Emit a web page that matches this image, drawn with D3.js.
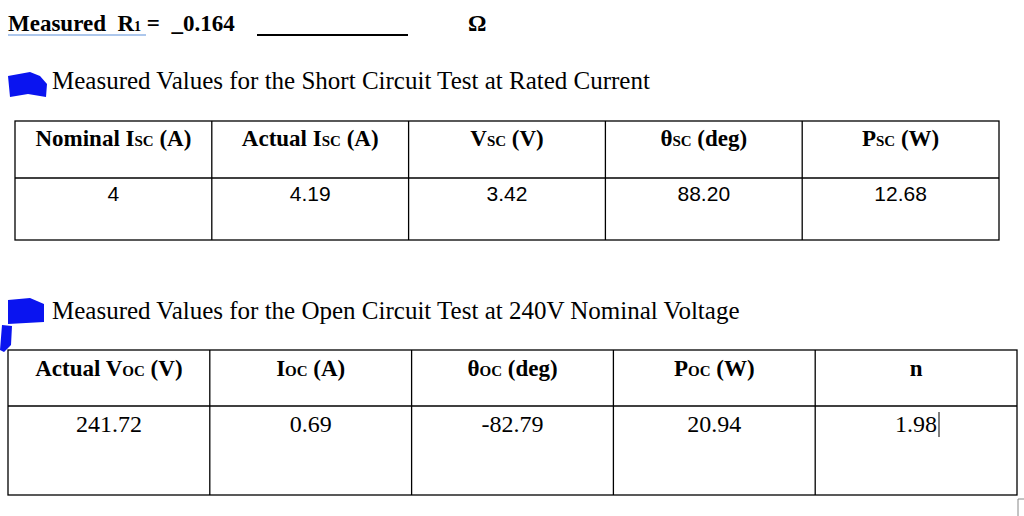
<!DOCTYPE html><html><head><meta charset="utf-8"><script src="https://cdn.jsdelivr.net/npm/d3@7"></script>
<style>body{margin:0;background:#fff}text{white-space:pre}</style></head><body><svg id="c" width="1024" height="516"></svg>
<script>
const scHeaders=[["Nominal I","SC"," (A)"],["Actual I","SC"," (A)"],["V","SC"," (V)"],["θ","SC"," (deg)"],["P","SC"," (W)"]];
const scValues=["4","4.19","3.42","88.20","12.68"];
const ocHeaders=[["Actual V","OC"," (V)"],["I","OC"," (A)"],["θ","OC"," (deg)"],["P","OC"," (W)"],["n","",""]];
const ocValues=["241.72","0.69","-82.79","20.94","1.98"];
const svg=d3.select("#c");
const T="Liberation Serif, Times New Roman, serif";
const t=svg.append("text").attr("x",8).attr("y",31).attr("font-family",T).attr("font-size",23).attr("font-weight","bold");
t.append("tspan").text("Measured  R");t.append("tspan").attr("font-size",14).text("1");
t.append("tspan").text(" =  _0.164");
svg.append("line").attr("x1",8).attr("x2",146).attr("y1",35).attr("y2",35).attr("stroke","#5b8fd9").attr("stroke-width",1);
svg.append("line").attr("x1",257).attr("x2",408).attr("y1",35).attr("y2",35).attr("stroke","#000").attr("stroke-width",2);
svg.append("text").attr("x",468).attr("y",31).attr("font-family",T).attr("font-size",23).attr("font-weight","bold").text("Ω");
svg.append("path").attr("d","M8,76 L30,72 L40,76 L47,84 L46,97 L28,94 L10,97 Z").attr("fill","#0a14f0");
svg.append("path").attr("d","M8,300 L30,298 L44,304 L44,322 L8,324 Z M2,325 L12,326 L11,345 L4,352 L0,350 Z").attr("fill","#0a14f0");
svg.append("text").attr("x",52).attr("y",89).attr("font-family",T).attr("font-size",25).text("Measured Values for the Short Circuit Test at Rated Current");
svg.append("text").attr("x",52).attr("y",319).attr("font-family",T).attr("font-size",25).text("Measured Values for the Open Circuit Test at 240V Nominal Voltage");
function table(x0,x1,y0,ym,y1,hy,vy,heads,vals,vfont,vsize){
  const x=d3.scaleBand().domain(d3.range(5)).range([x0,x1]);
  const g=svg.append("g");
  g.append("rect").attr("x",x0).attr("y",y0).attr("width",x1-x0).attr("height",y1-y0).attr("fill","none").attr("stroke","#000").attr("stroke-width",1.3);
  g.append("line").attr("x1",x0).attr("x2",x1).attr("y1",ym).attr("y2",ym).attr("stroke","#000").attr("stroke-width",1.3);
  g.selectAll("line.v").data(d3.range(1,5)).join("line").attr("x1",d=>x(d)).attr("x2",d=>x(d)).attr("y1",y0).attr("y2",y1).attr("stroke","#000").attr("stroke-width",1.3);
  heads.forEach((h,i)=>{
    const tx=g.append("text").attr("x",x(i)+x.bandwidth()/2).attr("y",hy).attr("text-anchor","middle").attr("font-family",T).attr("font-size",23).attr("font-weight","bold");
    tx.append("tspan").text(h[0]);
    if(h[1]) tx.append("tspan").attr("font-size",15).text(h[1]);
    tx.append("tspan").text(h[2]);
  });
  g.selectAll("text.val").data(vals).join("text").attr("x",(d,i)=>x(i)+x.bandwidth()/2).attr("y",vy).attr("text-anchor","middle").attr("font-family",vfont).attr("font-size",vsize).text(d=>d);
}
table(15,999,121,178,240,146,201,scHeaders,scValues,"Liberation Sans, Arial, sans-serif",21);
table(8,1017,350,406,495,376,432,ocHeaders,ocValues,T,24);
svg.append("line").attr("x1",939).attr("x2",939).attr("y1",412).attr("y2",437).attr("stroke","#000");
svg.append("path").attr("d","M1018,516 L1018,499 L1024,499").attr("fill","none").attr("stroke","#888");
</script></body></html>
